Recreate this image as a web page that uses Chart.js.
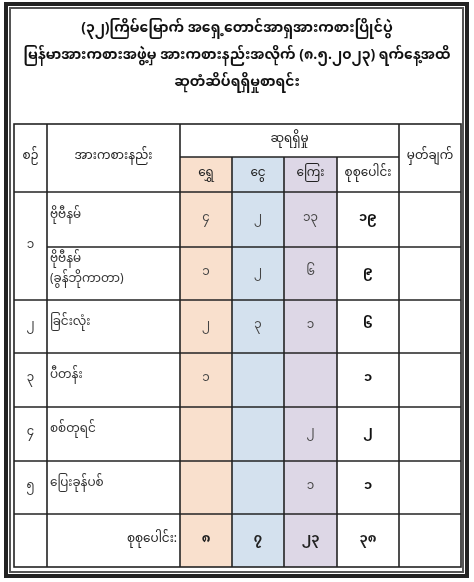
<!DOCTYPE html>
<html><head><meta charset="utf-8">
<script src="https://cdn.jsdelivr.net/npm/chart.js@4"></script>
<style>html,body{margin:0;padding:0;background:#fff}#w{width:474px;height:582px}</style>
</head><body><div id="w"><canvas id="c"></canvas></div>
<script>
const titleLines = ["(၃၂)ကြိမ်မြောက် အရှေ့တောင်အာရှအားကစားပြိုင်ပွဲ","မြန်မာအားကစားအဖွဲ့မှ အားကစားနည်းအလိုက် (၈.၅.၂၀၂၃) ရက်နေ့အထိ","ဆုတံဆိပ်ရရှိမှုစာရင်း"];
const headers = ["စဉ်","အားကစားနည်း","ဆုရရှိမှု","မှတ်ချက်"];
const medalLabels = ["ရွှေ","ငွေ","ကြေး","စုစုပေါင်း"];
const rowNumbers = ["၁","","၂","၃","၄","၅"];
const sports = ["ဗိုဗီနမ်","ဗိုဗီနမ်\n(ခွန်ဘိုကာတာ)","ခြင်းလုံး","ပီတန်း","စစ်တုရင်","ပြေးခုန်ပစ်"];
const gold   = [4,1,2,1,null,null];
const silver = [2,2,3,null,null,null];
const bronze = [13,6,1,null,2,1];
const totals = [19,9,6,1,2,1];
const totalLabel = "စုစုပေါင်း:";
const sumRow = [8,7,23,38];

const mm = n => n==null ? "" : String(n).replace(/\d/g,d=>"၀၁၂၃၄၅၆၇၈၉"[d]);
const FONT = '"Noto Sans Myanmar","Padauk","Myanmar Text","Noto Sans",sans-serif';

const tablePlugin = {
  id:'tbl',
  afterDraw(chart){
    const ctx = chart.ctx;
    ctx.save();
    ctx.strokeStyle='#222'; ctx.lineWidth=4;
    ctx.strokeRect(6,4,461,572);
    ctx.lineWidth=2; ctx.strokeStyle='#555';
    ctx.strokeRect(10,8,453,564);
    ctx.fillStyle='#111'; ctx.textAlign='center'; ctx.textBaseline='middle';
    ctx.font='bold 14px '+FONT;
    titleLines.forEach((t,i)=>ctx.fillText(t,237,31+i*27));
    const X=[14,47,180,232,284,337,399,461];
    const Y=[124,157,192,247,300,353,407,461,514,567];
    const top=Y[0], bot=Y[Y.length-1];
    const fills=['#f9e0cd','#d4e1ee','#ddd7e6'];
    fills.forEach((f,i)=>{ctx.fillStyle=f;ctx.fillRect(X[2+i],Y[1],X[3+i]-X[2+i],bot-Y[1]);});
    ctx.strokeStyle='#222'; ctx.lineWidth=1.6;
    ctx.strokeRect(X[0],top,X[7]-X[0],bot-top);
    [1,2,6].forEach(i=>{ctx.beginPath();ctx.moveTo(X[i],top);ctx.lineTo(X[i],bot);ctx.stroke();});
    [3,4,5].forEach(i=>{ctx.beginPath();ctx.moveTo(X[i],Y[1]);ctx.lineTo(X[i],bot);ctx.stroke();});
    ctx.beginPath();ctx.moveTo(X[2],Y[1]);ctx.lineTo(X[6],Y[1]);ctx.stroke();
    for(let r=2;r<Y.length-1;r++){
      ctx.beginPath();
      ctx.moveTo(r===3?X[1]:X[0],Y[r]);ctx.lineTo(X[7],Y[r]);ctx.stroke();
    }
    ctx.fillStyle='#222'; ctx.font='12px '+FONT; ctx.textAlign='center';
    ctx.fillText(headers[0],(X[0]+X[1])/2,(Y[0]+Y[2])/2);
    ctx.fillText(headers[1],(X[1]+X[2])/2,(Y[0]+Y[2])/2);
    ctx.fillText(headers[2],(X[2]+X[6])/2,(Y[0]+Y[1])/2);
    ctx.fillText(headers[3],(X[6]+X[7])/2,(Y[0]+Y[2])/2);
    medalLabels.forEach((m,i)=>ctx.fillText(m,(X[2+i]+X[3+i])/2,(Y[1]+Y[2])/2));
    [0,1,2,3,4,5].forEach(r=>{
      const y0=Y[2+r], y1=Y[3+r], cy=(y0+y1)/2;
      ctx.textAlign='center'; ctx.font='12px '+FONT; ctx.fillStyle='#333';
      if(rowNumbers[r]){
        const ny = r===0 ? Y[3] : cy;
        ctx.fillText(rowNumbers[r],(X[0]+X[1])/2,ny);
      }
      ctx.textAlign='left';
      const lines=sports[r].split('\n');
      const start = cy - (lines.length-1)*10 - 3;
      lines.forEach((l,k)=>ctx.fillText(l,X[1]+3,start+k*20));
      ctx.textAlign='center';
      [gold,silver,bronze].forEach((arr,c)=>{ctx.fillStyle='#444';ctx.fillText(mm(arr[r]),(X[2+c]+X[3+c])/2,cy);});
      ctx.fillStyle='#111'; ctx.font='bold 13px '+FONT;
      ctx.fillText(mm(totals[r]),(X[5]+X[6])/2,cy);
    });
    const cy=(Y[8]+Y[9])/2;
    ctx.font='12px '+FONT; ctx.textAlign='right'; ctx.fillStyle='#222';
    ctx.fillText(totalLabel,X[2]-3,cy);
    ctx.textAlign='center'; ctx.font='bold 13px '+FONT;
    sumRow.forEach((v,i)=>ctx.fillText(mm(v),(X[2+i]+X[3+i])/2,cy));
    ctx.restore();
  }
};

new Chart(document.getElementById('c'),{
  type:'bar',
  data:{labels:medalLabels,datasets:[{data:sumRow,backgroundColor:'rgba(0,0,0,0)'}]},
  options:{responsive:true,maintainAspectRatio:false,animation:false,
    plugins:{legend:{display:false},tooltip:{enabled:false}},
    scales:{x:{display:false},y:{display:false}}},
  plugins:[tablePlugin]
});
</script></body></html>
